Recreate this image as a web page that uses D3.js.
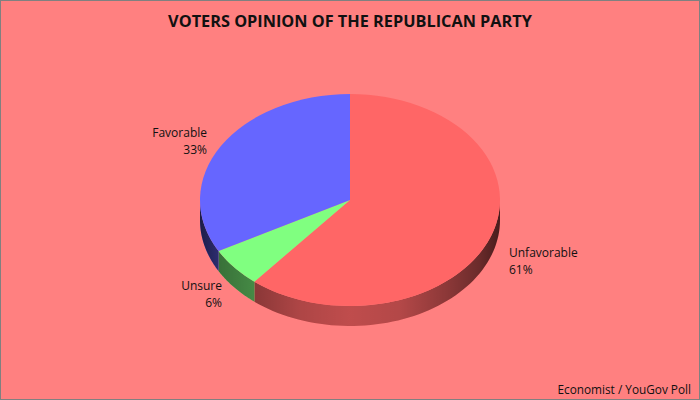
<!DOCTYPE html>
<html><head><meta charset="utf-8">
<script src="https://cdn.jsdelivr.net/npm/d3@7"></script>
<style>
html,body{margin:0;padding:0;background:#FF8080;}
svg{display:block;}
</style></head>
<body>
<svg id="chart" width="700" height="400"></svg>
<script>
const categories = ["Unfavorable", "Unsure", "Favorable"];
const values = [61, 6, 33];
const colors = ["#FF6666", "#80FF80", "#6666FF"];
const title = "VOTERS OPINION OF THE REPUBLICAN PARTY";
const source = "Economist / YouGov Poll";

const W = 700, H = 400;
const cx = 350, cy = 200, rx = 150, ry = 106, depth = 20;
const font = "'Open Sans', 'Noto Sans', sans-serif";

const svg = d3.select("#chart");
svg.append("rect").attr("x",0.5).attr("y",0.5).attr("width",W-1).attr("height",H-1)
  .attr("fill","#FF8080").attr("stroke","#808080").attr("stroke-width",1);

svg.append("text").attr("x",cx).attr("y",27).attr("text-anchor","middle")
  .attr("font-family",font).attr("font-weight","bold").attr("font-size",16.3)
  .attr("fill","#111").text(title);

const defs = svg.append("defs");
const grad = defs.append("linearGradient").attr("id","shade")
  .attr("gradientUnits","userSpaceOnUse")
  .attr("x1",cx-rx).attr("x2",cx+rx).attr("y1",0).attr("y2",0);
[[0,0.72],[0.063,0.56],[0.18,0.46],[0.33,0.32],[0.5,0.25],[0.67,0.3],[0.83,0.46],[0.93,0.58],[1,0.72]]
  .forEach(([o,a]) => grad.append("stop").attr("offset",o).attr("stop-color","#000").attr("stop-opacity",a));

const pie = d3.pie().sort(null).value(d => d);
const arcs = pie(values);

const px = a => cx + rx*Math.sin(a);
const py = a => cy - ry*Math.cos(a);

// side walls (visible front half: angles between PI/2 and 3PI/2)
const gSide = svg.append("g");
arcs.forEach((d,i) => {
  const a0 = Math.max(d.startAngle, Math.PI/2);
  const a1 = Math.min(d.endAngle, 3*Math.PI/2);
  if (a1 <= a0) return;
  const n = 60;
  const pts = d3.range(n+1).map(k => a0 + (a1-a0)*k/n);
  let p = "M" + pts.map(a => px(a)+","+py(a)).join("L");
  p += "L" + pts.slice().reverse().map(a => px(a)+","+(py(a)+depth)).join("L") + "Z";
  gSide.append("path").attr("d",p).attr("fill",colors[i]);
  gSide.append("path").attr("d",p).attr("fill","url(#shade)");
});

// top face
const arc = d3.arc().innerRadius(0).outerRadius(rx);
svg.append("g").attr("transform",`translate(${cx},${cy}) scale(1,${ry/rx})`)
  .selectAll("path").data(arcs).join("path")
  .attr("d",arc).attr("fill",(d,i)=>colors[i]);

// labels
const labels = [
  {i:0, x:509, y:257, anchor:"start"},
  {i:1, x:222, y:290, anchor:"end"},
  {i:2, x:207, y:137, anchor:"end"}
];
labels.forEach(l => {
  const t = svg.append("text").attr("font-family",font).attr("font-size",12)
    .attr("fill","#111").attr("text-anchor",l.anchor);
  t.append("tspan").attr("x",l.x).attr("y",l.y).text(categories[l.i]);
  t.append("tspan").attr("x",l.x).attr("y",l.y+17).text(values[l.i]+"%");
});

svg.append("text").attr("x",691).attr("y",394).attr("text-anchor","end")
  .attr("font-family",font).attr("font-size",11.8).attr("fill","#111").text(source);
</script>
</body></html>
